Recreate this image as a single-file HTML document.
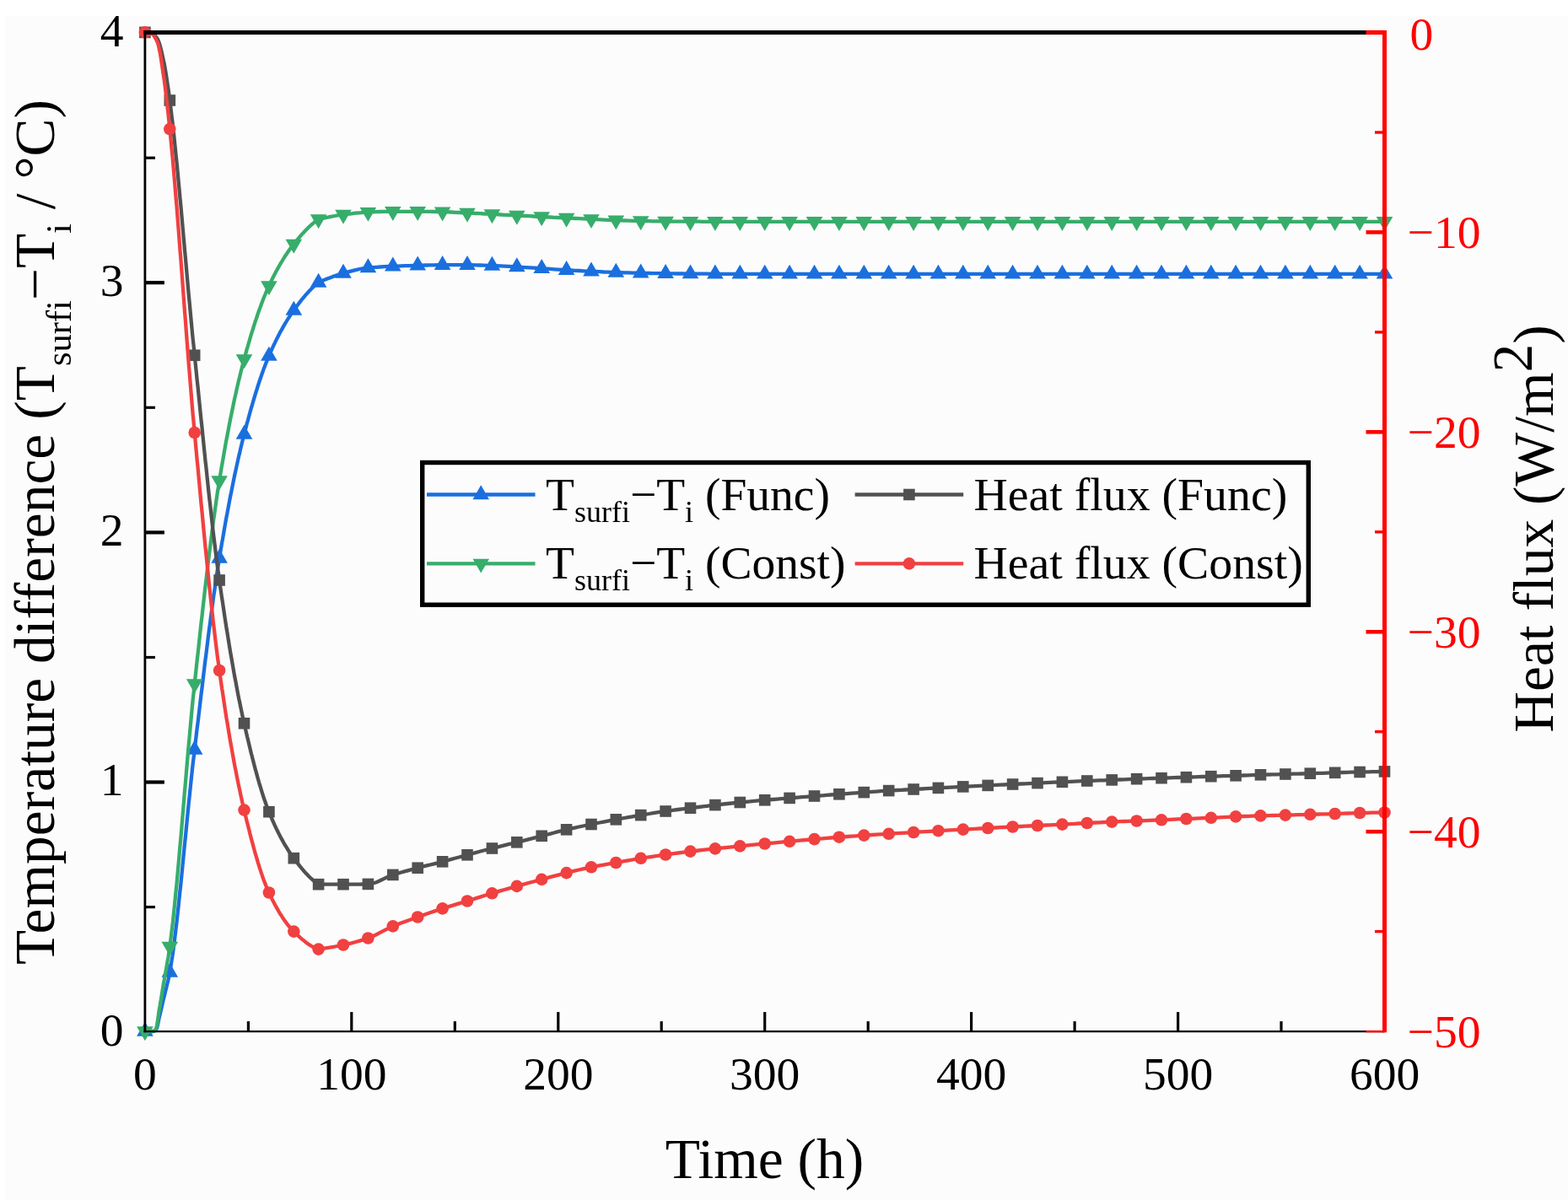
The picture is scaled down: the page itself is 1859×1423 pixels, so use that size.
<!DOCTYPE html>
<html lang="en"><head><meta charset="utf-8"><title>Temperature difference and heat flux</title>
<style>
html,body{margin:0;padding:0;background:#fff;}
body{width:1859px;height:1423px;overflow:hidden;}
svg{display:block;}
text{font-family:"Liberation Serif",serif;}
.tk{font-size:55.5px;}
.ti{font-size:67.5px;}
.lg{font-size:55.5px;}
</style></head><body>
<svg width="1859" height="1423" viewBox="0 0 1859 1423">
<rect x="6" y="19" width="1853" height="1404" fill="#fcfcfc"/>
<g fill="#1a6fdf" stroke="none">
<polyline points="171.9,1223.0 172.5,1223.0 173.1,1223.0 173.7,1223.0 174.3,1223.0 175.0,1223.0 175.6,1223.0 176.2,1223.0 176.8,1223.0 177.4,1223.0 178.0,1223.0 178.6,1223.0 179.2,1223.0 179.9,1223.0 180.5,1223.0 181.1,1223.0 181.7,1223.0 182.3,1222.9 182.9,1222.7 183.5,1222.3 184.1,1221.8 184.8,1221.2 185.4,1220.5 186.0,1219.2 186.6,1217.1 187.2,1214.4 187.8,1211.3 188.4,1208.3 189.0,1205.5 189.7,1202.9 190.3,1200.3 190.9,1197.7 191.5,1195.1 192.1,1192.4 192.7,1189.8 193.3,1187.1 193.9,1184.5 194.6,1181.9 195.2,1179.4 195.8,1177.0 196.4,1174.6 197.0,1172.2 197.6,1169.8 198.2,1167.3 198.8,1164.7 199.5,1162.0 200.1,1159.2 200.7,1156.2 201.3,1153.0 201.9,1149.6 202.5,1146.0 203.1,1142.2 203.7,1138.2 204.4,1134.1 205.0,1129.7 205.6,1125.3 206.2,1120.7 206.8,1115.9 207.4,1111.0 208.0,1105.9 208.6,1100.8 209.3,1095.5 209.9,1090.1 210.5,1084.6 211.1,1079.0 211.7,1073.4 212.3,1067.6 212.9,1061.7 213.5,1055.8 214.2,1049.9 214.8,1043.8 215.4,1037.7 216.0,1031.6 216.6,1025.4 217.2,1019.2 217.8,1013.0 218.4,1006.8 219.0,1000.5 219.7,994.3 220.3,988.0 220.9,981.8 221.5,975.6 222.1,969.4 222.7,963.2 223.3,957.1 223.9,951.0 224.6,945.0 225.2,939.0 225.8,933.1 226.4,927.3 227.0,921.5 227.6,915.9 228.2,910.3 228.8,904.8 229.5,899.4 230.1,894.1 230.7,889.0 231.3,883.9 231.9,878.8 232.5,873.7 233.1,868.6 233.7,863.5 234.4,858.3 235.0,853.2 235.6,848.1 236.2,842.9 236.8,837.8 237.4,832.7 238.0,827.6 238.6,822.5 239.3,817.4 239.9,812.3 240.5,807.2 241.1,802.1 241.7,797.1 242.3,792.1 242.9,787.1 243.5,782.1 244.2,777.1 244.8,772.2 245.4,767.3 246.0,762.4 246.6,757.6 247.2,752.7 247.8,748.0 248.4,743.2 249.1,738.5 249.7,733.8 250.3,729.2 250.9,724.6 251.5,720.1 252.1,715.6 252.7,711.1 253.3,706.7 254.0,702.4 254.6,698.1 255.2,693.8 255.8,689.6 256.4,685.5 257.0,681.4 257.6,677.4 258.2,673.5 258.9,669.6 259.5,665.8 260.1,662.0 260.7,658.3 261.3,654.6 261.9,651.0 262.5,647.3 263.1,643.7 263.8,640.2 264.4,636.6 265.0,633.1 265.6,629.6 266.2,626.1 266.8,622.7 267.4,619.3 268.0,615.9 268.6,612.5 269.3,609.2 269.9,605.9 270.5,602.6 271.1,599.4 271.7,596.1 272.3,592.9 272.9,589.8 273.5,586.6 274.2,583.5 274.8,580.4 275.4,577.4 276.0,574.3 276.6,571.3 277.2,568.4 277.8,565.4 278.4,562.5 279.1,559.6 279.7,556.8 280.3,553.9 280.9,551.1 281.5,548.4 282.1,545.6 282.7,542.9 283.3,540.2 284.0,537.6 284.6,534.9 285.2,532.3 285.8,529.8 286.4,527.2 287.0,524.7 287.6,522.3 288.2,519.8 288.9,517.4 289.5,515.0 290.1,512.6 290.7,510.3 291.3,507.9 291.9,505.6 292.5,503.3 293.1,501.0 293.8,498.8 294.4,496.5 295.0,494.3 295.6,492.0 296.2,489.8 296.8,487.7 297.4,485.5 298.0,483.3 298.7,481.2 299.3,479.1 299.9,477.0 300.5,474.9 301.1,472.8 301.7,470.8 302.3,468.8 302.9,466.8 303.6,464.8 304.2,462.8 304.8,460.9 305.4,458.9 306.0,457.0 306.6,455.1 307.2,453.3 307.8,451.4 308.5,449.6 309.1,447.8 309.7,446.0 310.3,444.3 310.9,442.5 311.5,440.8 312.1,439.1 312.7,437.4 313.3,435.8 314.0,434.2 314.6,432.6 315.2,431.0 315.8,429.4 316.4,427.9 317.0,426.4 317.6,424.9 318.2,423.4 318.9,422.0 319.5,420.6 320.1,419.2 320.7,417.8 321.3,416.4 321.9,415.1 322.5,413.7 323.1,412.4 323.8,411.0 324.4,409.7 325.0,408.4 325.6,407.1 326.2,405.9 326.8,404.6 327.4,403.4 328.0,402.1 328.7,400.9 329.3,399.7 329.9,398.5 330.5,397.3 331.1,396.1 331.7,395.0 332.3,393.8 332.9,392.7 333.6,391.6 334.2,390.5 334.8,389.4 335.4,388.3 336.0,387.2 336.6,386.1 337.2,385.1 337.8,384.0 338.5,383.0 339.1,382.0 339.7,381.0 340.3,380.0 340.9,379.0 341.5,378.0 342.1,377.1 342.7,376.1 343.4,375.2 344.0,374.2 344.6,373.3 345.2,372.4 345.8,371.5 346.4,370.6 347.0,369.7 347.6,368.9 348.3,368.0 348.9,367.1 349.5,366.3 350.1,365.5 350.7,364.6 351.3,363.8 351.9,363.0 352.5,362.1 353.2,361.3 353.8,360.5 354.4,359.7 355.0,358.9 355.6,358.1 356.2,357.4 356.8,356.6 357.4,355.8 358.0,355.0 358.7,354.3 359.3,353.5 359.9,352.8 360.5,352.1 361.1,351.3 361.7,350.6 362.3,349.9 362.9,349.2 363.6,348.5 364.2,347.8 364.8,347.1 365.4,346.5 366.0,345.8 366.6,345.1 367.2,344.5 367.8,343.9 368.5,343.2 369.1,342.6 369.7,342.0 370.3,341.4 370.9,340.8 371.5,340.2 372.1,339.7 372.7,339.1 373.4,338.6 374.0,338.0 374.6,337.5 375.2,337.0 375.8,336.5 376.4,336.0 377.0,335.5 377.6,335.0 382.5,332.8 387.4,330.8 392.3,328.9 397.2,327.1 402.1,325.5 407.0,324.0 411.9,322.6 416.8,321.3 421.7,320.1 426.6,319.0 431.5,318.1 436.4,317.5 441.3,317.1 446.2,316.8 451.1,316.5 456.0,316.2 460.9,316.0 465.8,315.8 470.7,315.6 475.6,315.4 480.5,315.2 485.4,315.1 490.3,314.9 495.2,314.8 500.1,314.7 505.0,314.5 509.9,314.4 514.8,314.3 519.7,314.2 524.6,314.2 529.5,314.2 534.4,314.2 539.3,314.2 544.2,314.2 549.1,314.2 554.0,314.2 558.9,314.2 563.8,314.3 568.7,314.5 573.6,314.6 578.5,314.8 583.4,315.0 588.3,315.2 593.2,315.4 598.1,315.7 603.0,315.9 607.9,316.2 612.8,316.5 617.7,316.8 622.6,317.1 627.5,317.4 632.4,317.7 637.3,318.0 642.2,318.3 647.1,318.6 652.0,318.9 656.9,319.3 661.8,319.6 666.7,319.9 671.6,320.2 676.5,320.5 681.4,320.8 686.3,321.0 691.2,321.3 696.1,321.6 701.0,321.8 705.9,322.0 710.8,322.2 715.7,322.5 720.6,322.6 725.4,322.8 730.3,323.0 735.2,323.2 740.1,323.3 745.0,323.4 749.9,323.6 754.8,323.7 759.7,323.8 764.6,323.9 769.5,324.0 774.4,324.1 779.3,324.2 784.2,324.2 789.1,324.3 794.0,324.4 798.9,324.4 803.8,324.5 808.7,324.5 813.6,324.6 818.5,324.6 823.4,324.6 828.3,324.7 833.2,324.7 838.1,324.7 843.0,324.8 847.9,324.8 852.8,324.8 857.7,324.8 862.6,324.9 867.5,324.9 872.4,324.9 877.3,324.9 882.2,324.9 887.1,324.9 892.0,324.9 896.9,324.9 901.8,324.9 906.7,324.9 911.6,324.9 916.5,324.9 921.4,324.9 926.3,324.9 931.2,324.9 936.1,324.9 941.0,324.9 945.9,324.9 950.8,324.9 955.7,324.9 960.6,324.9 965.5,324.9 970.4,324.9 975.3,324.9 980.2,324.9 985.1,324.9 990.0,324.9 994.9,324.9 999.8,324.9 1004.7,324.9 1009.6,324.9 1014.5,324.9 1019.4,324.9 1024.3,324.9 1029.2,324.9 1034.1,324.9 1039.0,324.9 1043.9,324.9 1048.8,324.9 1053.7,324.9 1058.6,324.9 1063.5,324.9 1068.4,324.9 1073.3,324.9 1078.2,324.9 1083.1,324.9 1088.0,324.9 1092.8,324.9 1097.7,324.9 1102.6,324.9 1107.5,324.9 1112.4,324.9 1117.3,324.9 1122.2,324.9 1127.1,324.9 1132.0,324.9 1136.9,324.9 1141.8,324.9 1146.7,324.9 1151.6,324.9 1156.5,324.9 1161.4,324.9 1166.3,324.9 1171.2,324.9 1176.1,324.9 1181.0,324.9 1185.9,324.9 1190.8,324.9 1195.7,324.9 1200.6,324.9 1205.5,324.9 1210.4,324.9 1215.3,324.9 1220.2,324.9 1225.1,324.9 1230.0,324.9 1234.9,324.9 1239.8,324.9 1244.7,324.9 1249.6,324.9 1254.5,324.9 1259.4,324.9 1264.3,324.9 1269.2,324.9 1274.1,324.9 1279.0,324.9 1283.9,324.9 1288.8,324.9 1293.7,324.9 1298.6,324.9 1303.5,324.9 1308.4,324.9 1313.3,324.9 1318.2,324.9 1323.1,324.9 1328.0,324.9 1332.9,324.9 1337.8,324.9 1342.7,324.9 1347.6,324.9 1352.5,324.9 1357.4,324.9 1362.3,324.9 1367.2,324.9 1372.1,324.9 1377.0,324.9 1381.9,324.9 1386.8,324.9 1391.7,324.9 1396.6,324.9 1401.5,324.9 1406.4,324.9 1411.3,324.9 1416.2,324.9 1421.1,324.9 1426.0,324.9 1430.9,324.9 1435.8,324.9 1440.7,324.9 1445.6,324.9 1450.5,324.9 1455.4,324.9 1460.2,324.9 1465.1,324.9 1470.0,324.9 1474.9,324.9 1479.8,324.9 1484.7,324.9 1489.6,324.9 1494.5,324.9 1499.4,324.9 1504.3,324.9 1509.2,324.9 1514.1,324.9 1519.0,324.9 1523.9,324.9 1528.8,324.9 1533.7,324.9 1538.6,324.9 1543.5,324.9 1548.4,324.9 1553.3,324.9 1558.2,324.9 1563.1,324.9 1568.0,324.9 1572.9,324.9 1577.8,324.9 1582.7,324.9 1587.6,324.9 1592.5,324.9 1597.4,324.9 1602.3,324.9 1607.2,324.9 1612.1,324.9 1617.0,324.9 1621.9,324.9 1626.8,324.9 1631.7,324.9 1636.6,324.9 1641.5,324.9" fill="none" stroke="#1a6fdf" stroke-width="4.3" stroke-linejoin="round"/>
<path d="M171.9,1211.8L181.7,1228.7L162.1,1228.7Z"/><path d="M201.3,1141.8L211.1,1158.7L191.5,1158.7Z"/><path d="M230.7,877.8L240.5,894.7L220.9,894.7Z"/><path d="M260.1,650.8L269.9,667.7L250.3,667.7Z"/><path d="M289.5,503.8L299.3,520.7L279.7,520.7Z"/><path d="M318.9,410.8L328.7,427.7L309.1,427.7Z"/><path d="M348.3,356.8L358.1,373.7L338.5,373.7Z"/><path d="M377.6,323.8L387.4,340.7L367.8,340.7Z"/><path d="M407.0,312.8L416.8,329.7L397.2,329.7Z"/><path d="M436.4,306.3L446.2,323.2L426.6,323.2Z"/><path d="M465.8,304.6L475.6,321.5L456.0,321.5Z"/><path d="M495.2,303.6L505.0,320.5L485.4,320.5Z"/><path d="M524.6,303.0L534.4,319.9L514.8,319.9Z"/><path d="M554.0,303.0L563.8,319.9L544.2,319.9Z"/><path d="M583.4,303.8L593.2,320.7L573.6,320.7Z"/><path d="M612.8,305.3L622.6,322.2L603.0,322.2Z"/><path d="M642.2,307.1L652.0,324.0L632.4,324.0Z"/><path d="M671.6,309.0L681.4,325.9L661.8,325.9Z"/><path d="M701.0,310.6L710.8,327.5L691.2,327.5Z"/><path d="M730.3,311.8L740.1,328.7L720.5,328.7Z"/><path d="M759.7,312.6L769.5,329.5L749.9,329.5Z"/><path d="M789.1,313.1L798.9,330.0L779.3,330.0Z"/><path d="M818.5,313.4L828.3,330.3L808.7,330.3Z"/><path d="M847.9,313.6L857.7,330.5L838.1,330.5Z"/><path d="M877.3,313.7L887.1,330.6L867.5,330.6Z"/><path d="M906.7,313.7L916.5,330.6L896.9,330.6Z"/><path d="M936.1,313.7L945.9,330.6L926.3,330.6Z"/><path d="M965.5,313.7L975.3,330.6L955.7,330.6Z"/><path d="M994.9,313.7L1004.7,330.6L985.1,330.6Z"/><path d="M1024.3,313.7L1034.1,330.6L1014.5,330.6Z"/><path d="M1053.7,313.7L1063.5,330.6L1043.9,330.6Z"/><path d="M1083.1,313.7L1092.9,330.6L1073.3,330.6Z"/><path d="M1112.4,313.7L1122.2,330.6L1102.6,330.6Z"/><path d="M1141.8,313.7L1151.6,330.6L1132.0,330.6Z"/><path d="M1171.2,313.7L1181.0,330.6L1161.4,330.6Z"/><path d="M1200.6,313.7L1210.4,330.6L1190.8,330.6Z"/><path d="M1230.0,313.7L1239.8,330.6L1220.2,330.6Z"/><path d="M1259.4,313.7L1269.2,330.6L1249.6,330.6Z"/><path d="M1288.8,313.7L1298.6,330.6L1279.0,330.6Z"/><path d="M1318.2,313.7L1328.0,330.6L1308.4,330.6Z"/><path d="M1347.6,313.7L1357.4,330.6L1337.8,330.6Z"/><path d="M1377.0,313.7L1386.8,330.6L1367.2,330.6Z"/><path d="M1406.4,313.7L1416.2,330.6L1396.6,330.6Z"/><path d="M1435.8,313.7L1445.6,330.6L1426.0,330.6Z"/><path d="M1465.1,313.7L1474.9,330.6L1455.3,330.6Z"/><path d="M1494.5,313.7L1504.3,330.6L1484.7,330.6Z"/><path d="M1523.9,313.7L1533.7,330.6L1514.1,330.6Z"/><path d="M1553.3,313.7L1563.1,330.6L1543.5,330.6Z"/><path d="M1582.7,313.7L1592.5,330.6L1572.9,330.6Z"/><path d="M1612.1,313.7L1621.9,330.6L1602.3,330.6Z"/><path d="M1641.5,313.7L1651.3,330.6L1631.7,330.6Z"/>
</g>
<g fill="#37ad6b" stroke="none">
<polyline points="171.9,1223.0 172.5,1223.0 173.1,1223.0 173.7,1223.0 174.3,1223.0 175.0,1223.0 175.6,1223.0 176.2,1223.0 176.8,1223.0 177.4,1223.0 178.0,1223.0 178.6,1223.0 179.2,1223.0 179.9,1223.0 180.5,1223.0 181.1,1223.0 181.7,1223.0 182.3,1222.9 182.9,1222.5 183.5,1221.9 184.1,1221.1 184.8,1220.2 185.4,1218.8 186.0,1216.2 186.6,1212.7 187.2,1208.6 187.8,1204.2 188.4,1199.9 189.0,1196.0 189.7,1192.4 190.3,1188.7 190.9,1185.0 191.5,1181.3 192.1,1177.6 192.7,1173.9 193.3,1170.2 193.9,1166.5 194.6,1162.9 195.2,1159.4 195.8,1155.9 196.4,1152.5 197.0,1149.1 197.6,1145.6 198.2,1142.1 198.8,1138.5 199.5,1134.8 200.1,1130.9 200.7,1126.8 201.3,1122.5 201.9,1118.0 202.5,1113.2 203.1,1108.3 203.7,1103.2 204.4,1097.9 205.0,1092.4 205.6,1086.8 206.2,1081.1 206.8,1075.1 207.4,1069.1 208.0,1062.9 208.6,1056.6 209.3,1050.2 209.9,1043.7 210.5,1037.0 211.1,1030.3 211.7,1023.5 212.3,1016.6 212.9,1009.7 213.5,1002.6 214.2,995.6 214.8,988.4 215.4,981.3 216.0,974.1 216.6,966.9 217.2,959.6 217.8,952.4 218.4,945.1 219.0,937.9 219.7,930.6 220.3,923.4 220.9,916.2 221.5,909.1 222.1,902.0 222.7,894.9 223.3,887.9 223.9,881.0 224.6,874.1 225.2,867.3 225.8,860.6 226.4,854.0 227.0,847.5 227.6,841.1 228.2,834.8 228.8,828.6 229.5,822.6 230.1,816.7 230.7,811.0 231.3,805.3 231.9,799.7 232.5,794.0 233.1,788.4 233.7,782.7 234.4,777.1 235.0,771.5 235.6,765.9 236.2,760.3 236.8,754.7 237.4,749.1 238.0,743.6 238.6,738.1 239.3,732.5 239.9,727.1 240.5,721.6 241.1,716.2 241.7,710.8 242.3,705.4 242.9,700.1 243.5,694.8 244.2,689.5 244.8,684.3 245.4,679.1 246.0,673.9 246.6,668.8 247.2,663.7 247.8,658.7 248.4,653.7 249.1,648.8 249.7,643.9 250.3,639.1 250.9,634.3 251.5,629.6 252.1,624.9 252.7,620.3 253.3,615.7 254.0,611.2 254.6,606.8 255.2,602.4 255.8,598.1 256.4,593.9 257.0,589.7 257.6,585.6 258.2,581.6 258.9,577.7 259.5,573.8 260.1,570.0 260.7,566.3 261.3,562.6 261.9,558.9 262.5,555.2 263.1,551.6 263.8,548.0 264.4,544.5 265.0,541.0 265.6,537.5 266.2,534.0 266.8,530.6 267.4,527.2 268.0,523.9 268.6,520.5 269.3,517.3 269.9,514.0 270.5,510.8 271.1,507.6 271.7,504.4 272.3,501.3 272.9,498.2 273.5,495.1 274.2,492.0 274.8,489.0 275.4,486.0 276.0,483.1 276.6,480.2 277.2,477.3 277.8,474.4 278.4,471.6 279.1,468.8 279.7,466.0 280.3,463.3 280.9,460.6 281.5,457.9 282.1,455.3 282.7,452.7 283.3,450.1 284.0,447.6 284.6,445.0 285.2,442.6 285.8,440.1 286.4,437.7 287.0,435.3 287.6,432.9 288.2,430.6 288.9,428.3 289.5,426.0 290.1,423.7 290.7,421.5 291.3,419.3 291.9,417.1 292.5,414.9 293.1,412.7 293.8,410.6 294.4,408.5 295.0,406.3 295.6,404.3 296.2,402.2 296.8,400.1 297.4,398.1 298.0,396.0 298.7,394.0 299.3,392.0 299.9,390.1 300.5,388.1 301.1,386.2 301.7,384.3 302.3,382.4 302.9,380.5 303.6,378.7 304.2,376.8 304.8,375.0 305.4,373.2 306.0,371.4 306.6,369.7 307.2,368.0 307.8,366.2 308.5,364.5 309.1,362.9 309.7,361.2 310.3,359.6 310.9,358.0 311.5,356.4 312.1,354.8 312.7,353.3 313.3,351.7 314.0,350.2 314.6,348.8 315.2,347.3 315.8,345.9 316.4,344.4 317.0,343.0 317.6,341.7 318.2,340.3 318.9,339.0 319.5,337.7 320.1,336.4 320.7,335.1 321.3,333.8 321.9,332.6 322.5,331.3 323.1,330.1 323.8,328.9 324.4,327.7 325.0,326.5 325.6,325.3 326.2,324.1 326.8,323.0 327.4,321.8 328.0,320.7 328.7,319.6 329.3,318.4 329.9,317.3 330.5,316.3 331.1,315.2 331.7,314.1 332.3,313.1 332.9,312.0 333.6,311.0 334.2,310.0 334.8,309.0 335.4,308.0 336.0,307.0 336.6,306.0 337.2,305.0 337.8,304.1 338.5,303.1 339.1,302.2 339.7,301.3 340.3,300.4 340.9,299.5 341.5,298.6 342.1,297.7 342.7,296.8 343.4,296.0 344.0,295.1 344.6,294.3 345.2,293.5 345.8,292.7 346.4,291.9 347.0,291.1 347.6,290.3 348.3,289.5 348.9,288.7 349.5,288.0 350.1,287.2 350.7,286.5 351.3,285.7 351.9,285.0 352.5,284.2 353.2,283.5 353.8,282.8 354.4,282.0 355.0,281.3 355.6,280.6 356.2,279.9 356.8,279.2 357.4,278.5 358.0,277.8 358.7,277.1 359.3,276.5 359.9,275.8 360.5,275.1 361.1,274.5 361.7,273.8 362.3,273.2 362.9,272.6 363.6,271.9 364.2,271.3 364.8,270.7 365.4,270.1 366.0,269.5 366.6,268.9 367.2,268.4 367.8,267.8 368.5,267.2 369.1,266.7 369.7,266.2 370.3,265.6 370.9,265.1 371.5,264.6 372.1,264.1 372.7,263.6 373.4,263.1 374.0,262.6 374.6,262.2 375.2,261.7 375.8,261.3 376.4,260.8 377.0,260.4 377.6,260.0 382.5,258.9 387.4,257.8 392.3,256.9 397.2,256.0 402.1,255.2 407.0,254.5 411.9,253.9 416.8,253.3 421.7,252.7 426.6,252.3 431.5,251.9 436.4,251.6 441.3,251.4 446.2,251.2 451.1,251.0 456.0,250.9 460.9,250.8 465.8,250.8 470.7,250.8 475.6,250.8 480.5,250.8 485.4,250.8 490.3,250.8 495.2,250.8 500.1,250.8 505.0,250.9 509.9,250.9 514.8,251.0 519.7,251.1 524.6,251.2 529.5,251.3 534.4,251.5 539.3,251.8 544.2,252.0 549.1,252.3 554.0,252.5 558.9,252.7 563.8,253.0 568.7,253.2 573.6,253.5 578.5,253.7 583.4,254.0 588.3,254.2 593.2,254.5 598.1,254.8 603.0,255.0 607.9,255.2 612.8,255.5 617.7,255.8 622.6,256.0 627.5,256.2 632.4,256.5 637.3,256.8 642.2,257.0 647.1,257.3 652.0,257.5 656.9,257.8 661.8,258.0 666.7,258.3 671.6,258.5 676.5,258.7 681.4,259.0 686.3,259.2 691.2,259.4 696.1,259.7 701.0,259.9 705.9,260.1 710.8,260.4 715.7,260.6 720.6,260.8 725.4,261.0 730.3,261.2 735.2,261.4 740.1,261.5 745.0,261.6 749.9,261.8 754.8,261.9 759.7,262.0 764.6,262.1 769.5,262.2 774.4,262.3 779.3,262.4 784.2,262.4 789.1,262.5 794.0,262.5 798.9,262.6 803.8,262.6 808.7,262.6 813.6,262.7 818.5,262.7 823.4,262.7 828.3,262.7 833.2,262.8 838.1,262.8 843.0,262.8 847.9,262.8 852.8,262.8 857.7,262.8 862.6,262.8 867.5,262.8 872.4,262.8 877.3,262.8 882.2,262.8 887.1,262.8 892.0,262.8 896.9,262.8 901.8,262.8 906.7,262.8 911.6,262.8 916.5,262.8 921.4,262.8 926.3,262.8 931.2,262.8 936.1,262.8 941.0,262.8 945.9,262.8 950.8,262.8 955.7,262.8 960.6,262.8 965.5,262.8 970.4,262.8 975.3,262.8 980.2,262.8 985.1,262.8 990.0,262.8 994.9,262.8 999.8,262.8 1004.7,262.8 1009.6,262.8 1014.5,262.8 1019.4,262.8 1024.3,262.8 1029.2,262.8 1034.1,262.8 1039.0,262.8 1043.9,262.8 1048.8,262.8 1053.7,262.8 1058.6,262.8 1063.5,262.8 1068.4,262.8 1073.3,262.8 1078.2,262.8 1083.1,262.8 1088.0,262.8 1092.8,262.8 1097.7,262.8 1102.6,262.8 1107.5,262.8 1112.4,262.8 1117.3,262.8 1122.2,262.8 1127.1,262.8 1132.0,262.8 1136.9,262.8 1141.8,262.8 1146.7,262.8 1151.6,262.8 1156.5,262.8 1161.4,262.8 1166.3,262.8 1171.2,262.8 1176.1,262.8 1181.0,262.8 1185.9,262.8 1190.8,262.8 1195.7,262.8 1200.6,262.8 1205.5,262.8 1210.4,262.8 1215.3,262.8 1220.2,262.8 1225.1,262.8 1230.0,262.8 1234.9,262.8 1239.8,262.8 1244.7,262.8 1249.6,262.8 1254.5,262.8 1259.4,262.8 1264.3,262.8 1269.2,262.8 1274.1,262.8 1279.0,262.8 1283.9,262.8 1288.8,262.8 1293.7,262.8 1298.6,262.8 1303.5,262.8 1308.4,262.8 1313.3,262.8 1318.2,262.8 1323.1,262.8 1328.0,262.8 1332.9,262.8 1337.8,262.8 1342.7,262.8 1347.6,262.8 1352.5,262.8 1357.4,262.8 1362.3,262.8 1367.2,262.8 1372.1,262.8 1377.0,262.8 1381.9,262.8 1386.8,262.8 1391.7,262.8 1396.6,262.8 1401.5,262.8 1406.4,262.8 1411.3,262.8 1416.2,262.8 1421.1,262.8 1426.0,262.8 1430.9,262.8 1435.8,262.8 1440.7,262.8 1445.6,262.8 1450.5,262.8 1455.4,262.8 1460.2,262.8 1465.1,262.8 1470.0,262.8 1474.9,262.8 1479.8,262.8 1484.7,262.8 1489.6,262.8 1494.5,262.8 1499.4,262.8 1504.3,262.8 1509.2,262.8 1514.1,262.8 1519.0,262.8 1523.9,262.8 1528.8,262.8 1533.7,262.8 1538.6,262.8 1543.5,262.8 1548.4,262.8 1553.3,262.8 1558.2,262.8 1563.1,262.8 1568.0,262.8 1572.9,262.8 1577.8,262.8 1582.7,262.8 1587.6,262.8 1592.5,262.8 1597.4,262.8 1602.3,262.8 1607.2,262.8 1612.1,262.8 1617.0,262.8 1621.9,262.8 1626.8,262.8 1631.7,262.8 1636.6,262.8 1641.5,262.8" fill="none" stroke="#37ad6b" stroke-width="4.3" stroke-linejoin="round"/>
<path d="M171.9,1234.2L181.7,1217.3L162.1,1217.3Z"/><path d="M201.3,1133.7L211.1,1116.8L191.5,1116.8Z"/><path d="M230.7,822.2L240.5,805.3L220.9,805.3Z"/><path d="M260.1,581.2L269.9,564.3L250.3,564.3Z"/><path d="M289.5,437.2L299.3,420.3L279.7,420.3Z"/><path d="M318.9,350.2L328.7,333.3L309.1,333.3Z"/><path d="M348.3,300.7L358.1,283.8L338.5,283.8Z"/><path d="M377.6,271.2L387.4,254.3L367.8,254.3Z"/><path d="M407.0,265.7L416.8,248.8L397.2,248.8Z"/><path d="M436.4,262.8L446.2,245.9L426.6,245.9Z"/><path d="M465.8,262.0L475.6,245.1L456.0,245.1Z"/><path d="M495.2,262.0L505.0,245.1L485.4,245.1Z"/><path d="M524.6,262.4L534.4,245.5L514.8,245.5Z"/><path d="M554.0,263.7L563.8,246.8L544.2,246.8Z"/><path d="M583.4,265.2L593.2,248.3L573.6,248.3Z"/><path d="M612.8,266.7L622.6,249.8L603.0,249.8Z"/><path d="M642.2,268.2L652.0,251.3L632.4,251.3Z"/><path d="M671.6,269.7L681.4,252.8L661.8,252.8Z"/><path d="M701.0,271.1L710.8,254.2L691.2,254.2Z"/><path d="M730.3,272.4L740.1,255.5L720.5,255.5Z"/><path d="M759.7,273.2L769.5,256.3L749.9,256.3Z"/><path d="M789.1,273.7L798.9,256.8L779.3,256.8Z"/><path d="M818.5,273.9L828.3,257.0L808.7,257.0Z"/><path d="M847.9,274.0L857.7,257.1L838.1,257.1Z"/><path d="M877.3,274.0L887.1,257.1L867.5,257.1Z"/><path d="M906.7,274.0L916.5,257.1L896.9,257.1Z"/><path d="M936.1,274.0L945.9,257.1L926.3,257.1Z"/><path d="M965.5,274.0L975.3,257.1L955.7,257.1Z"/><path d="M994.9,274.0L1004.7,257.1L985.1,257.1Z"/><path d="M1024.3,274.0L1034.1,257.1L1014.5,257.1Z"/><path d="M1053.7,274.0L1063.5,257.1L1043.9,257.1Z"/><path d="M1083.1,274.0L1092.9,257.1L1073.3,257.1Z"/><path d="M1112.4,274.0L1122.2,257.1L1102.6,257.1Z"/><path d="M1141.8,274.0L1151.6,257.1L1132.0,257.1Z"/><path d="M1171.2,274.0L1181.0,257.1L1161.4,257.1Z"/><path d="M1200.6,274.0L1210.4,257.1L1190.8,257.1Z"/><path d="M1230.0,274.0L1239.8,257.1L1220.2,257.1Z"/><path d="M1259.4,274.0L1269.2,257.1L1249.6,257.1Z"/><path d="M1288.8,274.0L1298.6,257.1L1279.0,257.1Z"/><path d="M1318.2,274.0L1328.0,257.1L1308.4,257.1Z"/><path d="M1347.6,274.0L1357.4,257.1L1337.8,257.1Z"/><path d="M1377.0,274.0L1386.8,257.1L1367.2,257.1Z"/><path d="M1406.4,274.0L1416.2,257.1L1396.6,257.1Z"/><path d="M1435.8,274.0L1445.6,257.1L1426.0,257.1Z"/><path d="M1465.1,274.0L1474.9,257.1L1455.3,257.1Z"/><path d="M1494.5,274.0L1504.3,257.1L1484.7,257.1Z"/><path d="M1523.9,274.0L1533.7,257.1L1514.1,257.1Z"/><path d="M1553.3,274.0L1563.1,257.1L1543.5,257.1Z"/><path d="M1582.7,274.0L1592.5,257.1L1572.9,257.1Z"/><path d="M1612.1,274.0L1621.9,257.1L1602.3,257.1Z"/><path d="M1641.5,274.0L1651.3,257.1L1631.7,257.1Z"/>
</g>
<g fill="#515151" stroke="none">
<polyline points="171.9,38.4 172.5,38.4 173.1,38.4 173.7,38.4 174.3,38.5 175.0,38.5 175.6,38.6 176.2,38.6 176.8,38.7 177.4,38.8 178.0,38.8 178.6,38.9 179.2,39.0 179.9,39.1 180.5,39.4 181.1,39.7 181.7,40.2 182.3,40.7 182.9,41.3 183.5,41.9 184.1,42.6 184.8,43.4 185.4,44.2 186.0,45.1 186.6,46.0 187.2,47.1 187.8,48.4 188.4,50.0 189.0,51.9 189.7,54.0 190.3,56.2 190.9,58.6 191.5,61.1 192.1,63.7 192.7,66.5 193.3,69.2 193.9,72.0 194.6,74.9 195.2,78.1 195.8,81.5 196.4,85.0 197.0,88.8 197.6,92.8 198.2,96.9 198.8,101.1 199.5,105.4 200.1,109.9 200.7,114.4 201.3,119.0 201.9,123.7 202.5,128.5 203.1,133.5 203.7,138.7 204.4,143.9 205.0,149.3 205.6,154.8 206.2,160.5 206.8,166.2 207.4,172.1 208.0,178.0 208.6,184.1 209.3,190.2 209.9,196.5 210.5,202.8 211.1,209.2 211.7,215.7 212.3,222.2 212.9,228.8 213.5,235.4 214.2,242.1 214.8,248.8 215.4,255.6 216.0,262.4 216.6,269.2 217.2,276.1 217.8,283.0 218.4,289.8 219.0,296.7 219.7,303.6 220.3,310.5 220.9,317.4 221.5,324.2 222.1,331.0 222.7,337.8 223.3,344.6 223.9,351.3 224.6,358.0 225.2,364.7 225.8,371.2 226.4,377.8 227.0,384.2 227.6,390.6 228.2,396.9 228.8,403.1 229.5,409.3 230.1,415.3 230.7,421.3 231.3,427.2 231.9,433.1 232.5,439.1 233.1,445.1 233.7,451.1 234.4,457.0 235.0,463.0 235.6,469.1 236.2,475.1 236.8,481.1 237.4,487.1 238.0,493.1 238.6,499.1 239.3,505.1 239.9,511.1 240.5,517.1 241.1,523.0 241.7,529.0 242.3,534.9 242.9,540.8 243.5,546.7 244.2,552.5 244.8,558.3 245.4,564.1 246.0,569.9 246.6,575.6 247.2,581.3 247.8,587.0 248.4,592.6 249.1,598.1 249.7,603.6 250.3,609.1 250.9,614.5 251.5,619.9 252.1,625.2 252.7,630.4 253.3,635.6 254.0,640.7 254.6,645.8 255.2,650.8 255.8,655.7 256.4,660.6 257.0,665.3 257.6,670.0 258.2,674.6 258.9,679.2 259.5,683.6 260.1,688.0 260.7,692.3 261.3,696.6 261.9,700.8 262.5,705.0 263.1,709.2 263.8,713.4 264.4,717.5 265.0,721.6 265.6,725.6 266.2,729.7 266.8,733.7 267.4,737.6 268.0,741.6 268.6,745.5 269.3,749.3 269.9,753.2 270.5,757.0 271.1,760.7 271.7,764.5 272.3,768.2 272.9,771.8 273.5,775.5 274.2,779.1 274.8,782.6 275.4,786.2 276.0,789.7 276.6,793.1 277.2,796.6 277.8,800.0 278.4,803.3 279.1,806.6 279.7,809.9 280.3,813.2 280.9,816.4 281.5,819.6 282.1,822.8 282.7,825.9 283.3,829.0 284.0,832.0 284.6,835.0 285.2,838.0 285.8,840.9 286.4,843.8 287.0,846.7 287.6,849.5 288.2,852.3 288.9,855.1 289.5,857.8 290.1,860.5 290.7,863.2 291.3,865.8 291.9,868.5 292.5,871.1 293.1,873.7 293.8,876.3 294.4,878.9 295.0,881.5 295.6,884.0 296.2,886.5 296.8,889.0 297.4,891.5 298.0,894.0 298.7,896.4 299.3,898.9 299.9,901.3 300.5,903.6 301.1,906.0 301.7,908.3 302.3,910.6 302.9,912.9 303.6,915.2 304.2,917.4 304.8,919.7 305.4,921.8 306.0,924.0 306.6,926.1 307.2,928.3 307.8,930.3 308.5,932.4 309.1,934.4 309.7,936.4 310.3,938.4 310.9,940.3 311.5,942.2 312.1,944.1 312.7,946.0 313.3,947.8 314.0,949.6 314.6,951.3 315.2,953.1 315.8,954.8 316.4,956.4 317.0,958.0 317.6,959.6 318.2,961.2 318.9,962.7 319.5,964.2 320.1,965.7 320.7,967.1 321.3,968.6 321.9,970.0 322.5,971.4 323.1,972.8 323.8,974.2 324.4,975.6 325.0,976.9 325.6,978.3 326.2,979.6 326.8,980.9 327.4,982.2 328.0,983.5 328.7,984.7 329.3,986.0 329.9,987.2 330.5,988.4 331.1,989.6 331.7,990.8 332.3,992.0 332.9,993.1 333.6,994.3 334.2,995.4 334.8,996.5 335.4,997.6 336.0,998.7 336.6,999.8 337.2,1000.8 337.8,1001.9 338.5,1002.9 339.1,1003.9 339.7,1004.9 340.3,1005.9 340.9,1006.9 341.5,1007.9 342.1,1008.8 342.7,1009.8 343.4,1010.7 344.0,1011.6 344.6,1012.5 345.2,1013.4 345.8,1014.3 346.4,1015.2 347.0,1016.0 347.6,1016.9 348.3,1017.7 348.9,1018.5 349.5,1019.3 350.1,1020.2 350.7,1021.0 351.3,1021.8 351.9,1022.6 352.5,1023.4 353.2,1024.1 353.8,1024.9 354.4,1025.7 355.0,1026.5 355.6,1027.2 356.2,1028.0 356.8,1028.7 357.4,1029.5 358.0,1030.2 358.7,1030.9 359.3,1031.6 359.9,1032.4 360.5,1033.1 361.1,1033.8 361.7,1034.4 362.3,1035.1 362.9,1035.8 363.6,1036.4 364.2,1037.1 364.8,1037.7 365.4,1038.4 366.0,1039.0 366.6,1039.6 367.2,1040.2 367.8,1040.8 368.5,1041.4 369.1,1041.9 369.7,1042.5 370.3,1043.0 370.9,1043.6 371.5,1044.1 372.1,1044.6 372.7,1045.1 373.4,1045.6 374.0,1046.1 374.6,1046.6 375.2,1047.0 375.8,1047.5 376.4,1047.9 377.0,1048.3 377.6,1048.7 382.5,1048.7 387.4,1048.7 392.3,1048.7 397.2,1048.7 402.1,1048.7 407.0,1048.7 411.9,1048.7 416.8,1048.7 421.7,1048.6 426.6,1048.6 431.5,1048.5 436.4,1048.4 441.3,1047.7 446.2,1046.2 451.1,1044.0 456.0,1041.6 460.9,1039.3 465.8,1037.4 470.7,1035.9 475.6,1034.5 480.5,1033.1 485.4,1031.8 490.3,1030.5 495.2,1029.2 500.1,1027.9 505.0,1026.7 509.9,1025.5 514.8,1024.3 519.7,1023.1 524.6,1021.8 529.5,1020.5 534.4,1019.2 539.3,1017.8 544.2,1016.5 549.1,1015.1 554.0,1013.8 558.9,1012.5 563.8,1011.2 568.7,1009.8 573.6,1008.5 578.5,1007.3 583.4,1006.0 588.3,1004.8 593.2,1003.6 598.1,1002.4 603.0,1001.2 607.9,1000.0 612.8,998.8 617.7,997.6 622.6,996.3 627.5,995.1 632.4,993.8 637.3,992.6 642.2,991.3 647.1,990.0 652.0,988.8 656.9,987.5 661.8,986.2 666.7,985.0 671.6,983.8 676.5,982.7 681.4,981.6 686.3,980.5 691.2,979.5 696.1,978.5 701.0,977.5 705.9,976.5 710.8,975.5 715.7,974.6 720.6,973.6 725.4,972.7 730.3,971.8 735.2,970.9 740.1,970.0 745.0,969.1 749.9,968.3 754.8,967.4 759.7,966.6 764.6,965.8 769.5,965.0 774.4,964.2 779.3,963.4 784.2,962.7 789.1,962.0 794.0,961.3 798.9,960.7 803.8,960.0 808.7,959.4 813.6,958.8 818.5,958.2 823.4,957.6 828.3,957.0 833.2,956.4 838.1,955.8 843.0,955.2 847.9,954.6 852.8,954.1 857.7,953.5 862.6,953.0 867.5,952.5 872.4,952.0 877.3,951.5 882.2,951.0 887.1,950.6 892.0,950.1 896.9,949.7 901.8,949.2 906.7,948.8 911.6,948.4 916.5,948.0 921.4,947.6 926.3,947.2 931.2,946.8 936.1,946.4 941.0,946.0 945.9,945.6 950.8,945.2 955.7,944.8 960.6,944.4 965.5,944.0 970.4,943.6 975.3,943.3 980.2,942.9 985.1,942.5 990.0,942.2 994.9,941.8 999.8,941.4 1004.7,941.1 1009.6,940.7 1014.5,940.3 1019.4,940.0 1024.3,939.6 1029.2,939.3 1034.1,938.9 1039.0,938.6 1043.9,938.2 1048.8,937.9 1053.7,937.6 1058.6,937.3 1063.5,937.0 1068.4,936.8 1073.3,936.5 1078.2,936.3 1083.1,936.0 1088.0,935.7 1092.8,935.5 1097.7,935.2 1102.6,934.9 1107.5,934.7 1112.4,934.4 1117.3,934.1 1122.2,933.9 1127.1,933.6 1132.0,933.4 1136.9,933.1 1141.8,932.9 1146.7,932.6 1151.6,932.4 1156.5,932.1 1161.4,931.9 1166.3,931.6 1171.2,931.4 1176.1,931.2 1181.0,930.9 1185.9,930.7 1190.8,930.5 1195.7,930.2 1200.6,930.0 1205.5,929.8 1210.4,929.5 1215.3,929.3 1220.2,929.1 1225.1,928.8 1230.0,928.6 1234.9,928.4 1239.8,928.2 1244.7,927.9 1249.6,927.7 1254.5,927.5 1259.4,927.3 1264.3,927.1 1269.2,926.9 1274.1,926.6 1279.0,926.4 1283.9,926.2 1288.8,926.0 1293.7,925.8 1298.6,925.6 1303.5,925.4 1308.4,925.3 1313.3,925.1 1318.2,924.9 1323.1,924.7 1328.0,924.5 1332.9,924.3 1337.8,924.1 1342.7,923.9 1347.6,923.7 1352.5,923.5 1357.4,923.4 1362.3,923.2 1367.2,923.0 1372.1,922.9 1377.0,922.7 1381.9,922.5 1386.8,922.4 1391.7,922.2 1396.6,922.0 1401.5,921.9 1406.4,921.7 1411.3,921.5 1416.2,921.4 1421.1,921.2 1426.0,921.0 1430.9,920.9 1435.8,920.7 1440.7,920.5 1445.6,920.4 1450.5,920.2 1455.4,920.1 1460.2,920.0 1465.1,919.8 1470.0,919.6 1474.9,919.5 1479.8,919.3 1484.7,919.1 1489.6,919.0 1494.5,918.8 1499.4,918.7 1504.3,918.5 1509.2,918.4 1514.1,918.3 1519.0,918.1 1523.9,918.0 1528.8,917.9 1533.7,917.7 1538.6,917.6 1543.5,917.5 1548.4,917.3 1553.3,917.2 1558.2,917.1 1563.1,916.9 1568.0,916.8 1572.9,916.6 1577.8,916.4 1582.7,916.3 1587.6,916.2 1592.5,916.0 1597.4,915.9 1602.3,915.7 1607.2,915.6 1612.1,915.5 1617.0,915.4 1621.9,915.3 1626.8,915.2 1631.7,915.1 1636.6,915.0 1641.5,914.9" fill="none" stroke="#515151" stroke-width="4.3" stroke-linejoin="round"/>
<rect x="165.1" y="31.6" width="13.6" height="13.6"/><rect x="194.5" y="112.2" width="13.6" height="13.6"/><rect x="223.9" y="414.5" width="13.6" height="13.6"/><rect x="253.3" y="681.2" width="13.6" height="13.6"/><rect x="282.7" y="851.0" width="13.6" height="13.6"/><rect x="312.1" y="955.9" width="13.6" height="13.6"/><rect x="341.5" y="1010.9" width="13.6" height="13.6"/><rect x="370.8" y="1041.9" width="13.6" height="13.6"/><rect x="400.2" y="1041.9" width="13.6" height="13.6"/><rect x="429.6" y="1041.6" width="13.6" height="13.6"/><rect x="459.0" y="1030.6" width="13.6" height="13.6"/><rect x="488.4" y="1022.4" width="13.6" height="13.6"/><rect x="517.8" y="1015.0" width="13.6" height="13.6"/><rect x="547.2" y="1007.0" width="13.6" height="13.6"/><rect x="576.6" y="999.2" width="13.6" height="13.6"/><rect x="606.0" y="992.0" width="13.6" height="13.6"/><rect x="635.4" y="984.5" width="13.6" height="13.6"/><rect x="664.8" y="977.0" width="13.6" height="13.6"/><rect x="694.2" y="970.7" width="13.6" height="13.6"/><rect x="723.5" y="965.0" width="13.6" height="13.6"/><rect x="752.9" y="959.8" width="13.6" height="13.6"/><rect x="782.3" y="955.2" width="13.6" height="13.6"/><rect x="811.7" y="951.4" width="13.6" height="13.6"/><rect x="841.1" y="947.8" width="13.6" height="13.6"/><rect x="870.5" y="944.7" width="13.6" height="13.6"/><rect x="899.9" y="942.0" width="13.6" height="13.6"/><rect x="929.3" y="939.6" width="13.6" height="13.6"/><rect x="958.7" y="937.2" width="13.6" height="13.6"/><rect x="988.1" y="935.0" width="13.6" height="13.6"/><rect x="1017.5" y="932.8" width="13.6" height="13.6"/><rect x="1046.9" y="930.8" width="13.6" height="13.6"/><rect x="1076.3" y="929.2" width="13.6" height="13.6"/><rect x="1105.6" y="927.6" width="13.6" height="13.6"/><rect x="1135.0" y="926.1" width="13.6" height="13.6"/><rect x="1164.4" y="924.6" width="13.6" height="13.6"/><rect x="1193.8" y="923.2" width="13.6" height="13.6"/><rect x="1223.2" y="921.8" width="13.6" height="13.6"/><rect x="1252.6" y="920.5" width="13.6" height="13.6"/><rect x="1282.0" y="919.2" width="13.6" height="13.6"/><rect x="1311.4" y="918.1" width="13.6" height="13.6"/><rect x="1340.8" y="916.9" width="13.6" height="13.6"/><rect x="1370.2" y="915.9" width="13.6" height="13.6"/><rect x="1399.6" y="914.9" width="13.6" height="13.6"/><rect x="1429.0" y="913.9" width="13.6" height="13.6"/><rect x="1458.3" y="913.0" width="13.6" height="13.6"/><rect x="1487.7" y="912.0" width="13.6" height="13.6"/><rect x="1517.1" y="911.2" width="13.6" height="13.6"/><rect x="1546.5" y="910.4" width="13.6" height="13.6"/><rect x="1575.9" y="909.5" width="13.6" height="13.6"/><rect x="1605.3" y="908.7" width="13.6" height="13.6"/><rect x="1634.7" y="908.1" width="13.6" height="13.6"/>
</g>
<g fill="#f14040" stroke="none">
<polyline points="171.9,38.4 172.5,38.4 173.1,38.4 173.7,38.5 174.3,38.5 175.0,38.6 175.6,38.7 176.2,38.8 176.8,38.9 177.4,39.0 178.0,39.2 178.6,39.3 179.2,39.5 179.9,39.7 180.5,40.1 181.1,40.6 181.7,41.3 182.3,42.0 182.9,42.9 183.5,43.9 184.1,45.0 184.8,46.1 185.4,47.3 186.0,48.6 186.6,50.0 187.2,51.6 187.8,53.8 188.4,56.3 189.0,59.2 189.7,62.4 190.3,66.0 190.9,69.7 191.5,73.6 192.1,77.6 192.7,81.8 193.3,85.9 193.9,90.0 194.6,94.2 195.2,98.7 195.8,103.4 196.4,108.3 197.0,113.4 197.6,118.7 198.2,124.1 198.8,129.7 199.5,135.4 200.1,141.2 200.7,147.1 201.3,153.0 201.9,159.0 202.5,165.3 203.1,171.6 203.7,178.1 204.4,184.8 205.0,191.6 205.6,198.5 206.2,205.5 206.8,212.6 207.4,219.9 208.0,227.2 208.6,234.7 209.3,242.2 209.9,249.9 210.5,257.6 211.1,265.3 211.7,273.2 212.3,281.1 212.9,289.0 213.5,297.0 214.2,305.0 214.8,313.1 215.4,321.2 216.0,329.3 216.6,337.4 217.2,345.5 217.8,353.6 218.4,361.7 219.0,369.8 219.7,377.9 220.3,386.0 220.9,394.0 221.5,402.0 222.1,410.0 222.7,417.9 223.3,425.7 223.9,433.5 224.6,441.2 225.2,448.8 225.8,456.4 226.4,463.8 227.0,471.2 227.6,478.4 228.2,485.6 228.8,492.6 229.5,499.6 230.1,506.3 230.7,513.0 231.3,519.6 231.9,526.2 232.5,532.8 233.1,539.4 233.7,546.0 234.4,552.5 235.0,559.1 235.6,565.7 236.2,572.2 236.8,578.7 237.4,585.3 238.0,591.8 238.6,598.2 239.3,604.7 239.9,611.1 240.5,617.5 241.1,623.9 241.7,630.2 242.3,636.5 242.9,642.8 243.5,649.0 244.2,655.2 244.8,661.3 245.4,667.4 246.0,673.5 246.6,679.5 247.2,685.5 247.8,691.4 248.4,697.2 249.1,703.0 249.7,708.7 250.3,714.4 250.9,720.0 251.5,725.5 252.1,731.0 252.7,736.4 253.3,741.7 254.0,747.0 254.6,752.2 255.2,757.3 255.8,762.3 256.4,767.2 257.0,772.1 257.6,776.9 258.2,781.5 258.9,786.1 259.5,790.6 260.1,795.0 260.7,799.3 261.3,803.6 261.9,807.9 262.5,812.1 263.1,816.3 263.8,820.4 264.4,824.5 265.0,828.6 265.6,832.6 266.2,836.6 266.8,840.5 267.4,844.5 268.0,848.3 268.6,852.2 269.3,856.0 269.9,859.7 270.5,863.5 271.1,867.1 271.7,870.8 272.3,874.4 272.9,878.0 273.5,881.5 274.2,885.0 274.8,888.5 275.4,891.9 276.0,895.3 276.6,898.7 277.2,902.0 277.8,905.3 278.4,908.5 279.1,911.7 279.7,914.9 280.3,918.0 280.9,921.1 281.5,924.2 282.1,927.2 282.7,930.2 283.3,933.1 284.0,936.0 284.6,938.9 285.2,941.8 285.8,944.6 286.4,947.3 287.0,950.1 287.6,952.7 288.2,955.4 288.9,958.0 289.5,960.6 290.1,963.2 290.7,965.7 291.3,968.2 291.9,970.7 292.5,973.2 293.1,975.7 293.8,978.2 294.4,980.6 295.0,983.1 295.6,985.5 296.2,987.9 296.8,990.3 297.4,992.6 298.0,995.0 298.7,997.3 299.3,999.6 299.9,1001.8 300.5,1004.1 301.1,1006.3 301.7,1008.5 302.3,1010.7 302.9,1012.9 303.6,1015.0 304.2,1017.1 304.8,1019.2 305.4,1021.2 306.0,1023.3 306.6,1025.2 307.2,1027.2 307.8,1029.2 308.5,1031.1 309.1,1032.9 309.7,1034.8 310.3,1036.6 310.9,1038.4 311.5,1040.2 312.1,1041.9 312.7,1043.6 313.3,1045.2 314.0,1046.8 314.6,1048.4 315.2,1050.0 315.8,1051.5 316.4,1053.0 317.0,1054.4 317.6,1055.8 318.2,1057.2 318.9,1058.5 319.5,1059.8 320.1,1061.1 320.7,1062.4 321.3,1063.6 321.9,1064.9 322.5,1066.1 323.1,1067.3 323.8,1068.5 324.4,1069.7 325.0,1070.9 325.6,1072.0 326.2,1073.2 326.8,1074.3 327.4,1075.4 328.0,1076.5 328.7,1077.6 329.3,1078.7 329.9,1079.7 330.5,1080.8 331.1,1081.8 331.7,1082.8 332.3,1083.8 332.9,1084.8 333.6,1085.8 334.2,1086.7 334.8,1087.7 335.4,1088.6 336.0,1089.5 336.6,1090.4 337.2,1091.3 337.8,1092.2 338.5,1093.0 339.1,1093.9 339.7,1094.7 340.3,1095.5 340.9,1096.3 341.5,1097.1 342.1,1097.8 342.7,1098.6 343.4,1099.3 344.0,1100.0 344.6,1100.7 345.2,1101.4 345.8,1102.1 346.4,1102.7 347.0,1103.4 347.6,1104.0 348.3,1104.6 348.9,1105.2 349.5,1105.8 350.1,1106.4 350.7,1107.0 351.3,1107.6 351.9,1108.1 352.5,1108.7 353.2,1109.3 353.8,1109.9 354.4,1110.4 355.0,1111.0 355.6,1111.5 356.2,1112.1 356.8,1112.6 357.4,1113.2 358.0,1113.7 358.7,1114.2 359.3,1114.7 359.9,1115.2 360.5,1115.7 361.1,1116.2 361.7,1116.7 362.3,1117.2 362.9,1117.7 363.6,1118.1 364.2,1118.6 364.8,1119.0 365.4,1119.4 366.0,1119.8 366.6,1120.3 367.2,1120.7 367.8,1121.0 368.5,1121.4 369.1,1121.8 369.7,1122.1 370.3,1122.5 370.9,1122.8 371.5,1123.1 372.1,1123.4 372.7,1123.7 373.4,1124.0 374.0,1124.3 374.6,1124.5 375.2,1124.8 375.8,1125.0 376.4,1125.2 377.0,1125.4 377.6,1125.6 382.5,1124.9 387.4,1124.2 392.3,1123.4 397.2,1122.5 402.1,1121.5 407.0,1120.5 411.9,1119.4 416.8,1118.3 421.7,1117.0 426.6,1115.6 431.5,1114.1 436.4,1112.5 441.3,1110.6 446.2,1108.2 451.1,1105.7 456.0,1103.1 460.9,1100.6 465.8,1098.4 470.7,1096.4 475.6,1094.5 480.5,1092.7 485.4,1091.0 490.3,1089.2 495.2,1087.5 500.1,1085.8 505.0,1084.0 509.9,1082.3 514.8,1080.6 519.7,1079.0 524.6,1077.4 529.5,1075.9 534.4,1074.4 539.3,1072.9 544.2,1071.4 549.1,1070.0 554.0,1068.5 558.9,1067.0 563.8,1065.4 568.7,1063.9 573.6,1062.3 578.5,1060.8 583.4,1059.3 588.3,1057.9 593.2,1056.4 598.1,1055.0 603.0,1053.6 607.9,1052.3 612.8,1050.9 617.7,1049.5 622.6,1048.2 627.5,1046.8 632.4,1045.5 637.3,1044.1 642.2,1042.8 647.1,1041.5 652.0,1040.2 656.9,1038.9 661.8,1037.6 666.7,1036.3 671.6,1035.1 676.5,1033.9 681.4,1032.7 686.3,1031.5 691.2,1030.4 696.1,1029.3 701.0,1028.3 705.9,1027.3 710.8,1026.4 715.7,1025.6 720.6,1024.7 725.4,1023.9 730.3,1023.0 735.2,1022.1 740.1,1021.2 745.0,1020.3 749.9,1019.5 754.8,1018.6 759.7,1017.8 764.6,1017.0 769.5,1016.3 774.4,1015.6 779.3,1014.9 784.2,1014.2 789.1,1013.5 794.0,1012.8 798.9,1012.1 803.8,1011.5 808.7,1010.8 813.6,1010.2 818.5,1009.6 823.4,1009.0 828.3,1008.5 833.2,1007.9 838.1,1007.4 843.0,1006.9 847.9,1006.4 852.8,1005.9 857.7,1005.4 862.6,1004.9 867.5,1004.4 872.4,1003.9 877.3,1003.4 882.2,1002.9 887.1,1002.4 892.0,1001.9 896.9,1001.4 901.8,1001.0 906.7,1000.5 911.6,1000.0 916.5,999.6 921.4,999.1 926.3,998.7 931.2,998.2 936.1,997.8 941.0,997.3 945.9,996.9 950.8,996.4 955.7,996.0 960.6,995.5 965.5,995.1 970.4,994.7 975.3,994.3 980.2,993.9 985.1,993.5 990.0,993.1 994.9,992.7 999.8,992.3 1004.7,992.0 1009.6,991.6 1014.5,991.3 1019.4,990.9 1024.3,990.6 1029.2,990.3 1034.1,990.0 1039.0,989.7 1043.9,989.4 1048.8,989.1 1053.7,988.8 1058.6,988.5 1063.5,988.2 1068.4,987.9 1073.3,987.6 1078.2,987.3 1083.1,987.0 1088.0,986.7 1092.8,986.4 1097.7,986.1 1102.6,985.8 1107.5,985.5 1112.4,985.2 1117.3,984.9 1122.2,984.7 1127.1,984.4 1132.0,984.1 1136.9,983.9 1141.8,983.6 1146.7,983.3 1151.6,983.1 1156.5,982.8 1161.4,982.5 1166.3,982.3 1171.2,982.0 1176.1,981.7 1181.0,981.5 1185.9,981.2 1190.8,981.0 1195.7,980.7 1200.6,980.5 1205.5,980.2 1210.4,980.0 1215.3,979.7 1220.2,979.5 1225.1,979.2 1230.0,979.0 1234.9,978.8 1239.8,978.5 1244.7,978.3 1249.6,978.1 1254.5,977.8 1259.4,977.6 1264.3,977.3 1269.2,977.1 1274.1,976.8 1279.0,976.5 1283.9,976.3 1288.8,976.0 1293.7,975.8 1298.6,975.5 1303.5,975.3 1308.4,975.0 1313.3,974.8 1318.2,974.6 1323.1,974.4 1328.0,974.2 1332.9,974.0 1337.8,973.9 1342.7,973.7 1347.6,973.5 1352.5,973.3 1357.4,973.1 1362.3,972.9 1367.2,972.7 1372.1,972.5 1377.0,972.3 1381.9,972.1 1386.8,971.9 1391.7,971.6 1396.6,971.4 1401.5,971.2 1406.4,971.0 1411.3,970.8 1416.2,970.6 1421.1,970.4 1426.0,970.2 1430.9,970.0 1435.8,969.8 1440.7,969.6 1445.6,969.3 1450.5,969.1 1455.4,968.8 1460.2,968.6 1465.1,968.4 1470.0,968.2 1474.9,968.0 1479.8,967.9 1484.7,967.7 1489.6,967.5 1494.5,967.4 1499.4,967.3 1504.3,967.1 1509.2,967.0 1514.1,966.9 1519.0,966.7 1523.9,966.6 1528.8,966.5 1533.7,966.3 1538.6,966.2 1543.5,966.1 1548.4,965.9 1553.3,965.8 1558.2,965.7 1563.1,965.5 1568.0,965.4 1572.9,965.3 1577.8,965.1 1582.7,965.0 1587.6,964.8 1592.5,964.7 1597.4,964.5 1602.3,964.3 1607.2,964.1 1612.1,964.0 1617.0,963.9 1621.9,963.8 1626.8,963.7 1631.7,963.6 1636.6,963.6 1641.5,963.5" fill="none" stroke="#f14040" stroke-width="4.3" stroke-linejoin="round"/>
<circle cx="171.9" cy="38.4" r="7.3"/><circle cx="201.3" cy="153.0" r="7.3"/><circle cx="230.7" cy="513.0" r="7.3"/><circle cx="260.1" cy="795.0" r="7.3"/><circle cx="289.5" cy="960.6" r="7.3"/><circle cx="318.9" cy="1058.5" r="7.3"/><circle cx="348.3" cy="1104.6" r="7.3"/><circle cx="377.6" cy="1125.6" r="7.3"/><circle cx="407.0" cy="1120.5" r="7.3"/><circle cx="436.4" cy="1112.5" r="7.3"/><circle cx="465.8" cy="1098.4" r="7.3"/><circle cx="495.2" cy="1087.5" r="7.3"/><circle cx="524.6" cy="1077.4" r="7.3"/><circle cx="554.0" cy="1068.5" r="7.3"/><circle cx="583.4" cy="1059.3" r="7.3"/><circle cx="612.8" cy="1050.9" r="7.3"/><circle cx="642.2" cy="1042.8" r="7.3"/><circle cx="671.6" cy="1035.1" r="7.3"/><circle cx="701.0" cy="1028.3" r="7.3"/><circle cx="730.3" cy="1023.0" r="7.3"/><circle cx="759.7" cy="1017.8" r="7.3"/><circle cx="789.1" cy="1013.5" r="7.3"/><circle cx="818.5" cy="1009.6" r="7.3"/><circle cx="847.9" cy="1006.4" r="7.3"/><circle cx="877.3" cy="1003.4" r="7.3"/><circle cx="906.7" cy="1000.5" r="7.3"/><circle cx="936.1" cy="997.8" r="7.3"/><circle cx="965.5" cy="995.1" r="7.3"/><circle cx="994.9" cy="992.7" r="7.3"/><circle cx="1024.3" cy="990.6" r="7.3"/><circle cx="1053.7" cy="988.8" r="7.3"/><circle cx="1083.1" cy="987.0" r="7.3"/><circle cx="1112.4" cy="985.2" r="7.3"/><circle cx="1141.8" cy="983.6" r="7.3"/><circle cx="1171.2" cy="982.0" r="7.3"/><circle cx="1200.6" cy="980.5" r="7.3"/><circle cx="1230.0" cy="979.0" r="7.3"/><circle cx="1259.4" cy="977.6" r="7.3"/><circle cx="1288.8" cy="976.0" r="7.3"/><circle cx="1318.2" cy="974.6" r="7.3"/><circle cx="1347.6" cy="973.5" r="7.3"/><circle cx="1377.0" cy="972.3" r="7.3"/><circle cx="1406.4" cy="971.0" r="7.3"/><circle cx="1435.8" cy="969.8" r="7.3"/><circle cx="1465.1" cy="968.4" r="7.3"/><circle cx="1494.5" cy="967.4" r="7.3"/><circle cx="1523.9" cy="966.6" r="7.3"/><circle cx="1553.3" cy="965.8" r="7.3"/><circle cx="1582.7" cy="965.0" r="7.3"/><circle cx="1612.1" cy="964.0" r="7.3"/><circle cx="1641.5" cy="963.5" r="7.3"/>
</g>
<g stroke="#000" fill="none">
<line x1="170.5" y1="38.5" x2="1641.5" y2="38.5" stroke-width="5.2"/>
<line x1="171.9" y1="35.9" x2="171.9" y2="1224.3" stroke-width="2.8"/>
<line x1="170.5" y1="1223.1" x2="1641.5" y2="1223.1" stroke-width="2.4"/>
<line x1="171.9" y1="1075.6" x2="183.9" y2="1075.6" stroke-width="3.2"/>
<line x1="171.9" y1="927.5" x2="194.9" y2="927.5" stroke-width="4.2"/>
<line x1="171.9" y1="779.5" x2="183.9" y2="779.5" stroke-width="3.2"/>
<line x1="171.9" y1="631.4" x2="194.9" y2="631.4" stroke-width="4.2"/>
<line x1="171.9" y1="483.3" x2="183.9" y2="483.3" stroke-width="3.2"/>
<line x1="171.9" y1="335.2" x2="194.9" y2="335.2" stroke-width="4.2"/>
<line x1="171.9" y1="187.2" x2="183.9" y2="187.2" stroke-width="3.2"/>
<line x1="294.4" y1="1223.1" x2="294.4" y2="1211.1" stroke-width="3.2"/>
<line x1="416.8" y1="1223.1" x2="416.8" y2="1200.1" stroke-width="3.2"/>
<line x1="539.3" y1="1223.1" x2="539.3" y2="1211.1" stroke-width="3.2"/>
<line x1="661.8" y1="1223.1" x2="661.8" y2="1200.1" stroke-width="3.2"/>
<line x1="784.2" y1="1223.1" x2="784.2" y2="1211.1" stroke-width="3.2"/>
<line x1="906.7" y1="1223.1" x2="906.7" y2="1200.1" stroke-width="3.2"/>
<line x1="1029.2" y1="1223.1" x2="1029.2" y2="1211.1" stroke-width="3.2"/>
<line x1="1151.6" y1="1223.1" x2="1151.6" y2="1200.1" stroke-width="3.2"/>
<line x1="1274.1" y1="1223.1" x2="1274.1" y2="1211.1" stroke-width="3.2"/>
<line x1="1396.6" y1="1223.1" x2="1396.6" y2="1200.1" stroke-width="3.2"/>
<line x1="1519.0" y1="1223.1" x2="1519.0" y2="1211.1" stroke-width="3.2"/>
</g>
<g stroke="#ff0000" fill="none">
<line x1="1641.5" y1="35.9" x2="1641.5" y2="1224.3" stroke-width="5"/>
<line x1="1641.5" y1="38.5" x2="1619.5" y2="38.5" stroke-width="5.2"/>
<line x1="1641.5" y1="157.0" x2="1630.0" y2="157.0" stroke-width="3.4"/>
<line x1="1641.5" y1="275.4" x2="1619.5" y2="275.4" stroke-width="4.6"/>
<line x1="1641.5" y1="393.9" x2="1630.0" y2="393.9" stroke-width="3.4"/>
<line x1="1641.5" y1="512.3" x2="1619.5" y2="512.3" stroke-width="4.6"/>
<line x1="1641.5" y1="630.8" x2="1630.0" y2="630.8" stroke-width="3.4"/>
<line x1="1641.5" y1="749.3" x2="1619.5" y2="749.3" stroke-width="4.6"/>
<line x1="1641.5" y1="867.7" x2="1630.0" y2="867.7" stroke-width="3.4"/>
<line x1="1641.5" y1="986.2" x2="1619.5" y2="986.2" stroke-width="4.6"/>
<line x1="1641.5" y1="1104.6" x2="1630.0" y2="1104.6" stroke-width="3.4"/>
<line x1="1641.5" y1="1223.1" x2="1619.5" y2="1223.1" stroke-width="2.4"/>
</g>
<g class="tk" fill="#000" text-anchor="end">
<text x="146.5" y="1239.5">0</text>
<text x="146.5" y="943.3">1</text>
<text x="146.5" y="647.2">2</text>
<text x="146.5" y="351.0">3</text>
<text x="146.5" y="54.9">4</text>
</g><g class="tk" fill="#000" text-anchor="middle">
<text x="171.9" y="1292">0</text>
<text x="416.8" y="1292">100</text>
<text x="661.8" y="1292">200</text>
<text x="906.7" y="1292">300</text>
<text x="1151.6" y="1292">400</text>
<text x="1396.6" y="1292">500</text>
<text x="1641.5" y="1292">600</text>
</g><g class="tk" fill="#ff0000" text-anchor="start">
<text x="1671.5" y="59.1">0</text>
<text x="1668.6" y="294.0">−10</text>
<text x="1668.6" y="530.9">−20</text>
<text x="1668.6" y="767.9">−30</text>
<text x="1668.6" y="1004.8">−40</text>
<text x="1668.6" y="1241.7">−50</text>
</g>
<text class="ti" x="906.5" y="1397" text-anchor="middle">Time (h)</text>
<text class="ti" transform="translate(64,631) rotate(-90)" text-anchor="middle">Temperature difference (T<tspan font-size="42.5" dy="19.5">surfi</tspan><tspan dy="-19.5">−T</tspan><tspan font-size="42.5" dy="19.5">i</tspan><tspan dy="-19.5"> / °C)</tspan></text>
<text class="ti" transform="translate(1841,627) rotate(-90)" text-anchor="middle">Heat flux (W/m<tspan dy="-24.6">2</tspan><tspan dy="24.6">)</tspan></text>
<rect x="500.7" y="548.5" width="1050.6" height="168.7" fill="none" stroke="#000" stroke-width="5.4"/>
<g fill="#1a6fdf"><line x1="506" y1="586.5" x2="634.5" y2="586.5" stroke="#1a6fdf" stroke-width="4.3"/><path d="M570.2,575.3L580.0,592.2L560.5,592.2Z"/></g>
<g fill="#37ad6b"><line x1="506" y1="668.4" x2="634.5" y2="668.4" stroke="#37ad6b" stroke-width="4.3"/><path d="M570.2,679.6L580.0,662.7L560.5,662.7Z"/></g>
<g fill="#515151"><line x1="1013.6" y1="586.5" x2="1142.2" y2="586.5" stroke="#515151" stroke-width="4.3"/><rect x="1071.1" y="579.7" width="13.6" height="13.6"/></g>
<g fill="#f14040"><line x1="1013.6" y1="668.4" x2="1142.2" y2="668.4" stroke="#f14040" stroke-width="4.3"/><circle cx="1077.9" cy="668.4" r="7.3"/></g>
<text class="lg" x="647" y="605.3">T<tspan font-size="36" dy="13.2">surfi</tspan><tspan dy="-13.2">−T</tspan><tspan font-size="36" dy="13.2">i</tspan><tspan dy="-13.2"> (Func)</tspan></text>
<text class="lg" x="647" y="686.3">T<tspan font-size="36" dy="13.2">surfi</tspan><tspan dy="-13.2">−T</tspan><tspan font-size="36" dy="13.2">i</tspan><tspan dy="-13.2"> (Const)</tspan></text>
<text class="lg" x="1154.4" y="605.3" style="font-size:55.8px">Heat flux (Func)</text>
<text class="lg" x="1154.4" y="686.3" style="font-size:55.8px">Heat flux (Const)</text>
</svg></body></html>
